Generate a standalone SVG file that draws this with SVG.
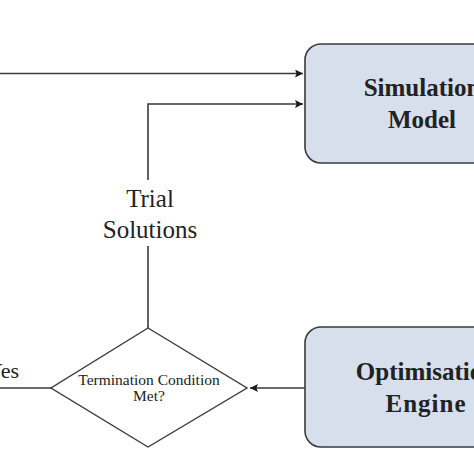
<svg xmlns="http://www.w3.org/2000/svg" width="474" height="474" viewBox="0 0 474 474">
<style>
.box{fill:#d6dfeb;stroke:#3a3a3a;stroke-width:1.6}
.dia{fill:#ffffff;stroke:#3a3a3a;stroke-width:1.4}
.ln{fill:none;stroke:#3a3a3a;stroke-width:1.6}
.bt{font-family:"Liberation Serif",serif;font-size:25px;font-weight:bold;fill:#222;text-anchor:middle}
.lt{font-family:"Liberation Serif",serif;font-size:25px;fill:#222;text-anchor:middle}
.st{font-family:"Liberation Serif",serif;font-size:15.5px;fill:#222;text-anchor:middle}
</style>
<defs>
<marker id="ah" viewBox="0 0 10 10" refX="10" refY="5" markerWidth="8" markerHeight="8" markerUnits="userSpaceOnUse" orient="auto">
<path d="M0,0 L10,5 L0,10 L2,5 Z" fill="#1a1a1a"/>
</marker>
</defs>
<rect width="474" height="474" fill="#ffffff"/>
<g id="connectors">
<path class="ln" d="M0,73.5 H303" marker-end="url(#ah)"/>
<path class="ln" d="M148,180 V104 H303" marker-end="url(#ah)"/>
<path class="ln" d="M148,246 V328"/>
<path class="ln" d="M305,388 H250" marker-end="url(#ah)"/>
<path class="ln" d="M51,388 H0"/>
</g>
<g id="simulation-model">
<rect class="box" x="305" y="44" width="234" height="119" rx="16"/>
<text class="bt" x="422" y="96">Simulation</text>
<text class="bt" x="422" y="128">Model</text>
</g>
<g id="optimisation-engine">
<rect class="box" x="305" y="327" width="234" height="120" rx="16"/>
<text class="bt" x="426" y="380">Optimisation</text>
<text class="bt" x="426" y="412" style="letter-spacing:1px">Engine</text>
</g>
<g id="termination">
<polygon class="dia" points="148,328 247,388 148,447 51,388"/>
<text class="st" x="149" y="385">Termination Condition</text>
<text class="st" x="149" y="401">Met?</text>
</g>
<g id="labels">
<text class="lt" x="150" y="207">Trial</text>
<text class="lt" x="150" y="238">Solutions</text>
<text class="lt" x="19" y="378" style="text-anchor:end;font-size:22px">Yes</text>
</g>
</svg>
